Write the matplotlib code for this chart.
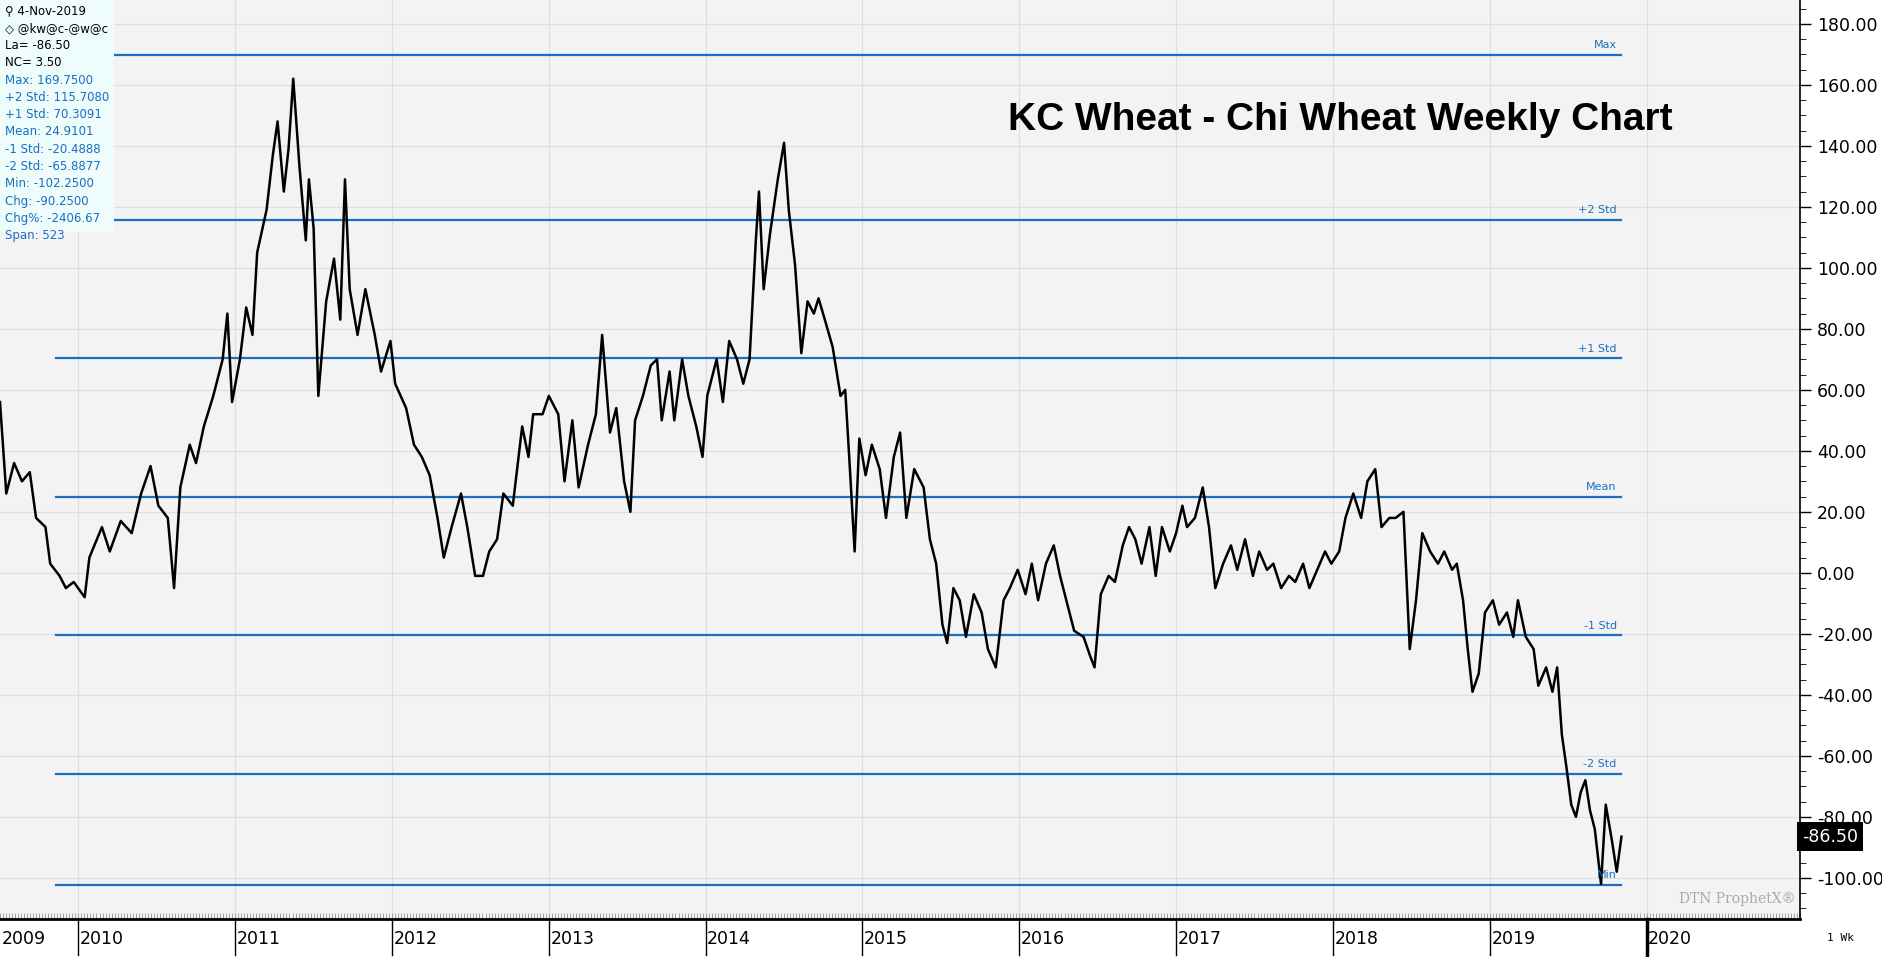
"""
KC Wheat - Chi Wheat weekly spread chart.
"""

import matplotlib.pyplot as plt
import numpy as np

DATES = [
    2009.50, 2009.54, 2009.59, 2009.64, 2009.69, 2009.73, 2009.79, 2009.82, 2009.88, 2009.92,
    2009.97, 2010.04, 2010.07, 2010.15, 2010.20, 2010.27, 2010.34, 2010.40, 2010.46, 2010.51,
    2010.57, 2010.61, 2010.65, 2010.71, 2010.75, 2010.80, 2010.86, 2010.92, 2010.95, 2010.98,
    2011.03, 2011.07, 2011.11, 2011.14, 2011.20, 2011.24, 2011.27, 2011.31, 2011.34, 2011.37,
    2011.41, 2011.45, 2011.47, 2011.50, 2011.53, 2011.58, 2011.63, 2011.67, 2011.70, 2011.73,
    2011.78, 2011.83, 2011.89, 2011.93, 2011.99, 2012.02, 2012.09, 2012.14, 2012.19, 2012.24,
    2012.29, 2012.33, 2012.38, 2012.44, 2012.48, 2012.53, 2012.58, 2012.62, 2012.67, 2012.71,
    2012.77, 2012.83, 2012.87, 2012.90, 2012.96, 2013.00, 2013.06, 2013.10, 2013.15, 2013.19,
    2013.25, 2013.30, 2013.34, 2013.39, 2013.43, 2013.48, 2013.52, 2013.55, 2013.60, 2013.65,
    2013.69, 2013.72, 2013.77, 2013.80, 2013.85, 2013.89, 2013.94, 2013.98, 2014.01, 2014.07,
    2014.11, 2014.15, 2014.20, 2014.24, 2014.28, 2014.32, 2014.34, 2014.37, 2014.41, 2014.46,
    2014.50, 2014.53, 2014.57, 2014.61, 2014.65, 2014.69, 2014.72, 2014.76, 2014.81, 2014.86,
    2014.89, 2014.92, 2014.95, 2014.98, 2015.02, 2015.06, 2015.11, 2015.15, 2015.20, 2015.24,
    2015.28, 2015.33, 2015.39, 2015.43, 2015.47, 2015.51, 2015.54, 2015.58, 2015.62, 2015.66,
    2015.71, 2015.76, 2015.80, 2015.85, 2015.90, 2015.94, 2015.99, 2016.04, 2016.08, 2016.12,
    2016.17, 2016.22, 2016.26, 2016.31, 2016.35, 2016.41, 2016.45, 2016.48, 2016.52, 2016.57,
    2016.61, 2016.66, 2016.70, 2016.74, 2016.78, 2016.83, 2016.87, 2016.91, 2016.96, 2017.00,
    2017.04, 2017.07, 2017.12, 2017.17, 2017.21, 2017.25, 2017.30, 2017.35, 2017.39, 2017.44,
    2017.49, 2017.53, 2017.58, 2017.62, 2017.67, 2017.72, 2017.76, 2017.81, 2017.85, 2017.90,
    2017.95, 2017.99, 2018.04, 2018.08, 2018.13, 2018.18, 2018.22, 2018.27, 2018.31, 2018.36,
    2018.40, 2018.45, 2018.49, 2018.53, 2018.57, 2018.62, 2018.67, 2018.71, 2018.76, 2018.79,
    2018.83, 2018.86, 2018.89, 2018.93, 2018.97, 2019.02, 2019.06, 2019.11, 2019.15, 2019.18,
    2019.23, 2019.28, 2019.31, 2019.36, 2019.40, 2019.43, 2019.46, 2019.49, 2019.52, 2019.55,
    2019.58, 2019.61, 2019.64, 2019.67, 2019.71, 2019.74, 2019.78, 2019.81, 2019.84,
]

SPREAD = [
    56, 26, 36, 30, 33, 18, 15, 3, -1, -5,
    -3, -8, 5, 15, 7, 17, 13, 26, 35, 22,
    18, -5, 28, 42, 36, 48, 58, 70, 85, 56,
    70, 87, 78, 105, 119, 137, 148, 125, 139, 162,
    133, 109, 129, 113, 58, 89, 103, 83, 129, 93,
    78, 93, 78, 66, 76, 62, 54, 42, 38, 32,
    18, 5, 15, 26, 15, -1, -1, 7, 11, 26,
    22, 48, 38, 52, 52, 58, 52, 30, 50, 28,
    42, 52, 78, 46, 54, 30, 20, 50, 58, 68,
    70, 50, 66, 50, 70, 58, 48, 38, 58, 70,
    56, 76, 70, 62, 70, 109, 125, 93, 111, 129,
    141, 119, 101, 72, 89, 85, 90, 83, 74, 58,
    60, 34, 7, 44, 32, 42, 34, 18, 38, 46,
    18, 34, 28, 11, 3, -17, -23, -5, -9, -21,
    -7, -13, -25, -31, -9, -5, 1, -7, 3, -9,
    3, 9, -1, -11, -19, -21, -27, -31, -7, -1,
    -3, 9, 15, 11, 3, 15, -1, 15, 7, 13,
    22, 15, 18, 28, 15, -5, 3, 9, 1, 11,
    -1, 7, 1, 3, -5, -1, -3, 3, -5, 1,
    7, 3, 7, 18, 26, 18, 30, 34, 15, 18,
    18, 20, -25, -9, 13, 7, 3, 7, 1, 3,
    -9, -25, -39, -33, -13, -9, -17, -13, -21, -9,
    -21, -25, -37, -31, -39, -31, -53, -64, -76, -80,
    -72, -68, -78, -84, -102, -76, -88, -98, -86.5,
]

STAT_NAMES = ["Max", "+2 Std", "+1 Std", "Mean", "-1 Std", "-2 Std", "Min"]
STAT_VALUES = [169.75, 115.708, 70.3091, 24.9101, -20.4888, -65.8877, -102.25]

INFO_LINES = [
    "Max: 169.7500", "+2 Std: 115.7080", "+1 Std: 70.3091", "Mean: 24.9101",
    "-1 Std: -20.4888", "-2 Std: -65.8877", "Min: -102.2500", "Chg: -90.2500",
    "Chg%: -2406.67", "Span: 523",
]

YEARS = list(range(2009, 2021))
LAST = -86.50
BLUE = "#1a6fc0"

fig = plt.figure(figsize=(18.82, 9.57), dpi=100)
ax = fig.add_axes([0.0, 0.040, 0.9566, 0.96])
ax.set_facecolor("#f3f3f3")

x_min, x_max = 2009.5, 2020.975
ax.set_xlim(x_min, x_max)
ax.set_ylim(-113.4, 187.8)

# grid
for v in np.arange(-100, 181, 20):
    ax.axhline(v, color="#dedede", linewidth=0.8, zorder=0)
for yr in YEARS[1:]:
    ax.axvline(yr, color="#dedede", linewidth=0.8, zorder=0)

# statistic lines
line_start = 2009.5 + 47 / 130.7
for name, val in zip(STAT_NAMES, STAT_VALUES):
    ax.plot([line_start, DATES[-1]], [val, val], color=BLUE, linewidth=1.6, zorder=2)
    ax.text(DATES[-1] - 0.03, val + 1.5, name, color=BLUE, fontsize=8,
            ha="right", va="bottom", zorder=4)

ax.plot(DATES, SPREAD, color="black", linewidth=1.8, zorder=3)

ax.text(2018.05, 148.5, "KC Wheat - Chi Wheat Weekly Chart",
        fontsize=28, fontweight="bold", family="Liberation Sans",
        ha="center", va="center")

ax.text(2020.95, -107, "DTN ProphetX\u00ae", family="DejaVu Serif",
        fontsize=10, color="#aaaaaa", ha="right", va="center")

# info box
ax.add_patch(plt.Rectangle((0, 0.747), 95 / 1500, 0.253, transform=ax.transAxes,
                           facecolor="#eefcfc", edgecolor="none", zorder=5))
head = ["\u26b2 4-Nov-2019", "\u25c7 @kw@c-@w@c", "La= -86.50", "NC= 3.50"]
for i, txt in enumerate(head + INFO_LINES):
    ax.text(0.003, 0.995 - i * 0.0188, txt, transform=ax.transAxes,
            fontsize=8.5, color="black" if i < 4 else BLUE,
            ha="left", va="top", zorder=6)

# right axis
ax.yaxis.tick_right()
ax.set_yticks(np.arange(-100, 181, 20))
ax.set_yticklabels([f"{v:.2f}" for v in np.arange(-100, 181, 20)], fontsize=12.5)
ax.set_yticks(np.arange(-110, 187, 5), minor=True)
ax.tick_params(axis="y", which="major", length=8, width=1, pad=4)
ax.tick_params(axis="y", which="minor", length=4)
ax.text(1.001, LAST, f"{LAST:.2f}", transform=ax.get_yaxis_transform(),
        fontsize=12.5, color="white", ha="left", va="center", zorder=10,
        bbox=dict(facecolor="black", edgecolor="none", boxstyle="square,pad=0.3"))

# bottom date strip
ax.set_xticks([])
ax.set_xticks(np.arange(2009.5, 2021, 1 / 52), minor=True)
ax.tick_params(axis="x", which="minor", length=4, color="#999999", direction="in")
for yr in YEARS:
    xpos = max(yr, x_min) + 0.01
    ax.text(xpos, -0.012, str(yr), transform=ax.get_xaxis_transform(),
            fontsize=12.5, ha="left", va="top")
    if yr > 2009:
        ax.plot([yr, yr], [0, -0.04], transform=ax.get_xaxis_transform(),
                color="black", linewidth=1, clip_on=False)
ax.plot([2020, 2020], [0, -0.04], transform=ax.get_xaxis_transform(),
        color="black", linewidth=2.5, clip_on=False)
fig.text(0.978, 0.02, "1 Wk", family="DejaVu Sans Mono", fontsize=8,
         ha="center", va="center")

for side in ["top", "left"]:
    ax.spines[side].set_visible(False)
ax.spines["bottom"].set_linewidth(2)
ax.spines["right"].set_linewidth(1.2)

fig.savefig("out.png", dpi=100)
